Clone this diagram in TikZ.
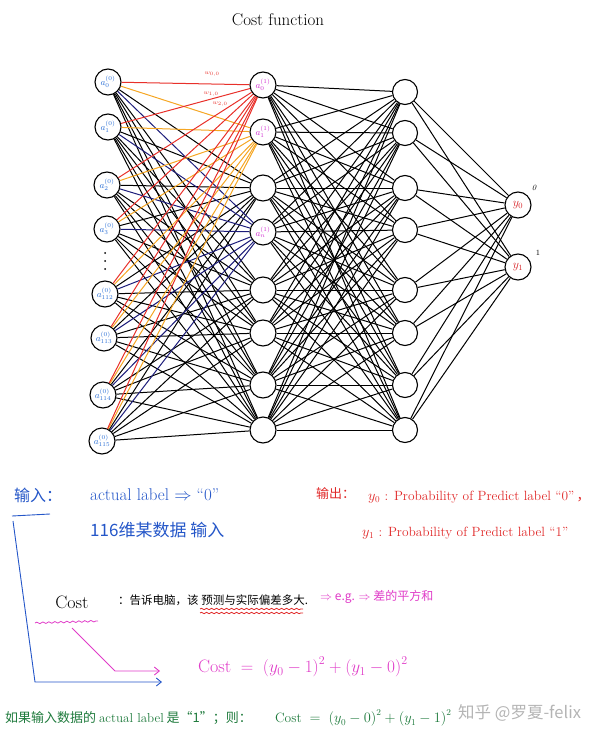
\documentclass[tikz,border=0pt]{standalone}
\usepackage{fontspec}
\usetikzlibrary{arrows.meta,decorations.pathmorphing}
\newfontfamily\cjk{Noto Sans CJK SC}
\definecolor{redw}{HTML}{E8302A}
\definecolor{orw}{HTML}{F5A623}
\definecolor{bluw}{HTML}{1C1C7A}
\definecolor{inblue}{HTML}{2A6FD6}
\definecolor{hmag}{HTML}{D02ED0}
\definecolor{outred}{HTML}{D8262A}
\definecolor{txtblue}{HTML}{2456C8}
\definecolor{txtred}{HTML}{E02828}
\definecolor{txtgreen}{HTML}{1E7A3C}
\definecolor{txtpink}{HTML}{E03CC8}
\definecolor{wmgray}{HTML}{B4B4B4}
\begin{document}
\begin{tikzpicture}[x=1pt,y=-1pt,
  neuron/.style={circle,draw,line width=1.1pt,fill=white,minimum size=26pt,inner sep=0pt,font=\small},
  edge/.style={line width=1pt},
  dotmark/.style={circle,fill=black,inner sep=0pt,minimum size=2pt},
  wlabel/.style={text=redw,font=\fontsize{6}{7}\selectfont,inner sep=0pt},
  txt/.style={anchor=west,inner sep=0pt},
  wavy/.style={decorate,decoration={snake,amplitude=0.8pt,segment length=6pt},line width=0.8pt},
  arr/.style={line width=0.9pt,-{Straight Barb[length=5pt,width=8pt]}}]
\useasboundingbox (0,0) rectangle (600,738);
% title
\node[font=\fontsize{17}{20}\selectfont] (title) at (278,20) {Cost function};
% input layer
\foreach \n/\x/\y/\l in {0/108/82/0,1/108/127/1,2/107/185/2,3/107/229/3,4/105/294/112,5/104/338/113,6/103/395/114,7/102/441/115}
  \node[neuron,text=inblue] (i\n) at (\x,\y) {$a^{(0)}_{\l}$};
\node[dotmark] (d1) at (105,253) {};
\node[dotmark] (d2) at (105,261) {};
\node[dotmark] (d3) at (105,269) {};
% hidden layer 1
\foreach \n/\y/\l in {0/85/0,1/132/1,3/232/n}
  \node[neuron,text=hmag] (h\n) at (263,\y) {$a^{(1)}_{\l}$};
\foreach \n/\y in {2/188,4/290,5/333,6/385,7/430}
  \node[neuron] (h\n) at (263,\y) {};
% hidden layer 2
\foreach \n/\y in {0/92,1/133,2/188,3/230,4/290,5/333,6/385,7/430}
  \node[neuron,minimum size=25pt] (k\n) at (405,\y) {};
% output layer
\node[neuron,text=outred,font=\large] (o0) at (518,205) {$y_0$};
\node[neuron,text=outred,font=\large] (o1) at (518,267) {$y_1$};
\node[font=\footnotesize\itshape] (ol0) at (534,188) {0};
\node[font=\footnotesize] (ol1) at (538,253) {1};
% edges input -> hidden1
\foreach \i in {0,...,7}{\foreach \j in {2,4,5,6,7}{\draw[edge] (i\i) -- (h\j);}}
\foreach \i in {0,...,7}{\draw[edge,bluw] (i\i) -- (h3);}
\foreach \i in {0,...,7}{\draw[edge,orw] (i\i) -- (h1);}
\foreach \i in {0,...,7}{\draw[edge,redw] (i\i) -- (h0);}
% hidden1 -> hidden2
\foreach \i in {0,...,7}{\foreach \j in {0,...,7}{\draw[edge] (h\i) -- (k\j);}}
% hidden2 -> output
\foreach \i in {0,...,7}{\draw[edge] (k\i) -- (o0); \draw[edge] (k\i) -- (o1);}
% weight labels
\node[wlabel] (w0) at (212,74) {$w_{0,0}$};
\node[wlabel] (w1) at (211,94) {$w_{1,0}$};
\node[wlabel] (w2) at (220,104) {$w_{2,0}$};
% input text
\node[txt,text=txtblue,font=\cjk\fontsize{16}{18}\selectfont] (inlab) at (14,495) {输入：};
\node[txt,text=txtblue,font=\fontsize{17}{20}\selectfont] (actual) at (90,495) {actual label $\Rightarrow$ ``0''};
\node[txt,text=txtblue,font=\cjk\fontsize{17}{20}\selectfont] (dim) at (90,530) {116维某数据 输入};
% output text
\node[txt,text=txtred,font=\cjk\fontsize{13}{15}\selectfont] (outlab) at (316,494) {输出：};
\node[txt,text=txtred,font=\fontsize{13.4}{16}\selectfont] (p0) at (368,497) {$y_0$ : Probability of Predict label ``0''\,{\cjk ，}};
\node[txt,text=txtred,font=\fontsize{13.4}{16}\selectfont] (p1) at (362,533) {$y_1$ : Probability of Predict label ``1''};
% cost explanation
\node[font=\fontsize{18}{20}\selectfont] (cost) at (72,602) {Cost};
\node[txt,font=\cjk\fontsize{11.5}{14}\selectfont] (expl) at (118,600) {：告诉电脑，该 预测与实际偏差多大.};
\node[txt,text=txtpink,font=\cjk\fontsize{12}{14}\selectfont] (eg) at (320,597) {$\Rightarrow$ e.g. $\Rightarrow$ 差的平方和};
\draw[wavy,txtpink] (35,623) -- (98,621);
\draw[wavy,txtred,decoration={snake,amplitude=0.7pt,segment length=5pt}] (200,609) -- (303,609);
\draw[wavy,txtred,decoration={snake,amplitude=0.7pt,segment length=5pt}] (200,613) -- (303,613);
% arrows
\coordinate (pa) at (72,628);
\coordinate (pb) at (115,671);
\coordinate (pc) at (160,671);
\draw[arr,txtpink] (pa) -- (pb) -- (pc);
\coordinate (ua) at (12,516);
\coordinate (ub) at (50,514);
\draw[line width=0.9pt,txtblue] (ua) -- (ub);
\coordinate (ba) at (13,521);
\coordinate (bb) at (35,682);
\coordinate (bc) at (162,682);
\draw[arr,txtblue] (ba) -- (bb) -- (bc);
% formulas
\node[txt,text=txtpink,font=\fontsize{18}{20}\selectfont] (f1) at (198,667) {$\mathrm{Cost} \;=\; \left(y_0 - 1\right)^2 + \left(y_1 - 0\right)^2$};
\node[txt,text=txtgreen,font=\cjk\fontsize{13}{15}\selectfont] (g1) at (5,718) {如果输入数据的 {\rmfamily actual label} 是“1”；则：};
\node[txt,text=txtgreen,font=\fontsize{13.5}{16}\selectfont] (f2) at (275,718) {$\mathrm{Cost} \;=\; \left(y_0 - 0\right)^2 + \left(y_1 - 1\right)^2$};
\node[txt,text=wmgray,font=\cjk\fontsize{16.5}{20}\selectfont] (wm) at (458,713) {知乎 @罗夏-felix};
\end{tikzpicture}
\end{document}
